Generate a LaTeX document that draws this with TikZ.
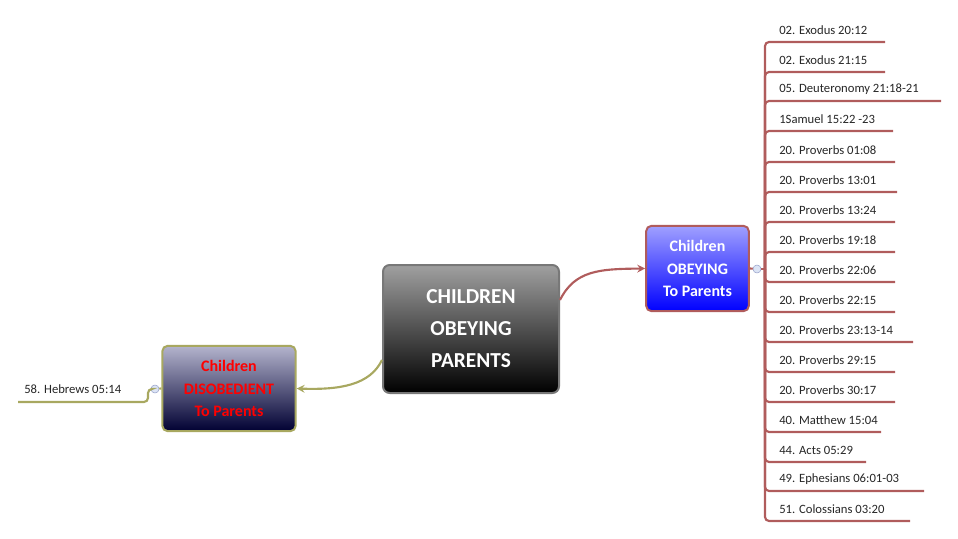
\documentclass[tikz,border=0pt]{standalone}
\usepackage{fontspec}
\setmainfont{Carlito}
\begin{document}
\begin{tikzpicture}[x=0.75pt,y=-0.75pt,
  item/.style={anchor=west,inner sep=0pt,font=\fontsize{9.5}{11}\selectfont,text=black!85},
  redl/.style={draw={rgb,255:red,176;green,92;blue,92},line width=1.6pt,rounded corners=3pt},
  olv/.style={draw={rgb,255:red,168;green,168;blue,96},line width=1.6pt},
  tog/.style={circle,draw={rgb,255:red,150;green,160;blue,200},fill={rgb,255:red,220;green,228;blue,245},minimum size=6pt,inner sep=0pt}]
\useasboundingbox (0,0) rectangle (958,539);
% central
\node[draw={rgb,255:red,120;green,120;blue,120},line width=1.5pt,rounded corners=5pt,
  top color={rgb,255:red,160;green,160;blue,160},bottom color=black,
  minimum width=132pt,minimum height=96pt,text=white,align=center,
  font=\fontsize{16}{24}\selectfont\bfseries] (c) at (471,329) {CHILDREN\\OBEYING\\PARENTS};
% obeying
\node[draw={rgb,255:red,176;green,92;blue,92},line width=1.5pt,rounded corners=4pt,
  top color={rgb,255:red,160;green,160;blue,255},bottom color={rgb,255:red,0;green,0;blue,255},
  minimum width=77pt,minimum height=64pt,text=white,align=center,
  font=\fontsize{12}{17}\selectfont\bfseries] (o) at (697.5,268.5) {Children\\OBEYING\\To Parents};
% disobedient
\node[draw={rgb,255:red,168;green,168;blue,96},line width=1.5pt,rounded corners=4pt,
  top color={rgb,255:red,180;green,180;blue,205},bottom color={rgb,255:red,0;green,0;blue,50},
  minimum width=100pt,minimum height=64pt,text=red,align=center,
  font=\fontsize{12}{17}\selectfont\bfseries] (d) at (229,388.5) {Children\\DISOBEDIENT\\To Parents};
% connectors
\draw[draw={rgb,255:red,176;green,92;blue,92},line width=1.6pt,-stealth] (c.east|-0,300) .. controls (575,270) and (600,269) .. (o.west);
\draw[olv,-stealth] (c.west|-0,360) .. controls (370,385) and (340,390) .. (d.east);
% left child
\node[tog] (tl) at (155,389) {};
\node[item] (h) at (24,389) {58. Hebrews 05:14};
\draw[olv] (d.west) -- (tl);
\draw[olv,rounded corners=3pt] (tl.west) -- (148,389) -- (148,402) -- (18,402);
% right children
\node[tog] (tr) at (757,269) {};
\draw[redl] (o.east) -- (tr);
\coordinate (tk) at (765,269);
\draw[redl] (tr.east) -- (tk);
\foreach \t/\y/\e [count=\i] in {02. Exodus 20:12/30/885,02. Exodus 21:15/60/885,05. Deuteronomy 21:18-21/89/941,1Samuel 15:22 -23/119/893,20. Proverbs 01:08/150/895,20. Proverbs 13:01/180/897,20. Proverbs 13:24/210/895,20. Proverbs 19:18/240/895,20. Proverbs 22:06/270/895,20. Proverbs 22:15/300/895,20. Proverbs 23:13-14/330/913,20. Proverbs 29:15/360/895,20. Proverbs 30:17/390/895,40. Matthew 15:04/420/881,44. Acts 05:29/450/866,49. Ephesians 06:01-03/479/924,51. Colossians 03:20/509/910}{
  \node[item] (n\i) at (779,\y) {\t};
  \draw[redl] (tk) -- (765,\y+12) -- (\e,\y+12);
}
\end{tikzpicture}
\end{document}
